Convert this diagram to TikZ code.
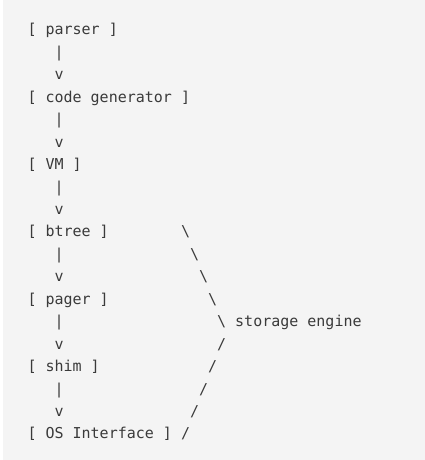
\documentclass[tikz,border=0pt]{standalone}
\usepackage{fontspec}
\newfontfamily\codefont{DejaVu Sans Mono}
\definecolor{codebg}{HTML}{F4F4F4}
\definecolor{codeink}{HTML}{3A3A3A}

\tikzset{
  code/.style = {anchor=base west, inner sep=0pt, outer sep=0pt, text=codeink, font=\codefont\fontsize{15pt}{22pt}\selectfont},
  pipe/.style = {code},
  slash/.style = {code}
}

\begin{document}
\begin{tikzpicture}
\useasboundingbox (0,0) rectangle (425pt,-460pt);
\fill[white] (0,0) rectangle (425pt,-460pt);
\fill[codebg] (3pt,0) rectangle (425pt,-460pt);

\begin{scope}[shift={(27.5pt,-35pt)}, x=9.03pt, y=-22.44pt]
% layers
\node[code] (parser)  at (0,0)  {[ parser ]};
\node[code] (codegen) at (0,3)  {[ code generator ]};
\node[code] (vm)      at (0,6)  {[ VM ]};
\node[code] (btree)   at (0,9)  {[ btree ]};
\node[code] (pager)   at (0,12) {[ pager ]};
\node[code] (shim)    at (0,15) {[ shim ]};
\node[code] (os)      at (0,18) {[ OS Interface ]};

% arrows between layers
\node[pipe] (p1) at (3,1)  {|};  \node[pipe] (v1) at (3,2)  {v};
\node[pipe] (p2) at (3,4)  {|};  \node[pipe] (v2) at (3,5)  {v};
\node[pipe] (p3) at (3,7)  {|};  \node[pipe] (v3) at (3,8)  {v};
\node[pipe] (p4) at (3,10) {|};  \node[pipe] (v4) at (3,11) {v};
\node[pipe] (p5) at (3,13) {|};  \node[pipe] (v5) at (3,14) {v};
\node[pipe] (p6) at (3,16) {|};  \node[pipe] (v6) at (3,17) {v};

% storage engine bracket
\node[slash] (b1) at (17,9)  {\textbackslash};
\node[slash] (b2) at (18,10) {\textbackslash};
\node[slash] (b3) at (19,11) {\textbackslash};
\node[slash] (b4) at (20,12) {\textbackslash};
\node[slash] (b5) at (21,13) {\textbackslash};
\node[slash] (f1) at (21,14) {/};
\node[slash] (f2) at (20,15) {/};
\node[slash] (f3) at (19,16) {/};
\node[slash] (f4) at (18,17) {/};
\node[slash] (f5) at (17,18) {/};
\node[code] (storage) at (23,13) {storage engine};
\end{scope}

\end{tikzpicture}
\end{document}
